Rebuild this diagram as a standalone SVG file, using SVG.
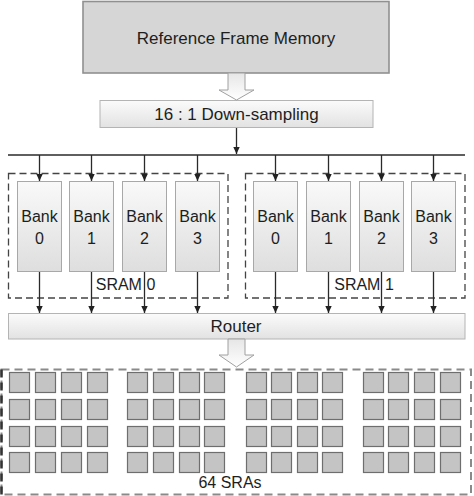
<svg xmlns="http://www.w3.org/2000/svg" width="474" height="496" viewBox="0 0 474 496">
<defs>
<linearGradient id="gBox" x1="0" y1="0" x2="0" y2="1">
<stop offset="0" stop-color="#fbfbfb"/>
<stop offset="1" stop-color="#e2e2e2"/>
</linearGradient>
<linearGradient id="gBank" x1="0" y1="0" x2="0" y2="1">
<stop offset="0" stop-color="#f9f9f9"/>
<stop offset="1" stop-color="#dedede"/>
</linearGradient>
<linearGradient id="gHollow" x1="0" y1="0" x2="0" y2="1">
<stop offset="0" stop-color="#e6e6e6"/>
<stop offset="1" stop-color="#ffffff"/>
</linearGradient>
<marker id="ah" markerWidth="8" markerHeight="8" refX="7" refY="4" orient="auto" markerUnits="userSpaceOnUse">
<path d="M0,0.8 L7,4 L0,7.2 Z" fill="#222"/>
</marker>
</defs>
<style>
text{font-family:"Liberation Sans",Arial,sans-serif;fill:#1e1e1e;text-anchor:middle}
.t17{font-size:17px}
.t16{font-size:16px}
.bank{fill:url(#gBank);stroke:#a8a8a8;stroke-width:1}
.box{fill:url(#gBox);stroke:#b4b4b4;stroke-width:1}
.hollow{fill:url(#gHollow);stroke:#a0a0a0;stroke-width:1}
.conn{stroke:#2a2a2a;stroke-width:1.3;fill:none}
.sram{fill:none;stroke:#444;stroke-width:1.3;stroke-dasharray:7,4}
.sra{fill:#c4c4c4;stroke:#6e6e6e;stroke-width:1.2}
</style>

<g id="ref-frame-memory">
<rect x="83" y="1.5" width="306" height="71.5" fill="#d6d6d6" stroke="#909090" stroke-width="1.6"/>
<text class="t17" x="236" y="44">Reference Frame Memory</text>
</g>

<g id="downsampling">
<rect class="box" x="100" y="100.5" width="273" height="27"/>
<text class="t17" x="236.5" y="120">16 : 1 Down-sampling</text>
</g>

<g id="sram0">
<rect class="sram" x="8.5" y="173.5" width="219.5" height="124.5"/>
<text class="t16" x="125.5" y="290">SRAM 0</text>
</g>
<g id="sram1">
<rect class="sram" x="245.5" y="173.5" width="219.5" height="124.5"/>
<text class="t16" x="364" y="290">SRAM 1</text>
</g>

<g id="sram0-bank0"><rect class="bank" x="17.5" y="181.5" width="44" height="90"/><text class="t16" x="39.5" y="222">Bank</text><text class="t16" x="39.5" y="244">0</text></g>
<g id="sram0-bank1"><rect class="bank" x="69.5" y="181.5" width="44" height="90"/><text class="t16" x="91.5" y="222">Bank</text><text class="t16" x="91.5" y="244">1</text></g>
<g id="sram0-bank2"><rect class="bank" x="122.5" y="181.5" width="44" height="90"/><text class="t16" x="144.5" y="222">Bank</text><text class="t16" x="144.5" y="244">2</text></g>
<g id="sram0-bank3"><rect class="bank" x="175.5" y="181.5" width="44" height="90"/><text class="t16" x="197.5" y="222">Bank</text><text class="t16" x="197.5" y="244">3</text></g>
<g id="sram1-bank0"><rect class="bank" x="253.5" y="181.5" width="44" height="90"/><text class="t16" x="275.5" y="222">Bank</text><text class="t16" x="275.5" y="244">0</text></g>
<g id="sram1-bank1"><rect class="bank" x="306.5" y="181.5" width="44" height="90"/><text class="t16" x="328.5" y="222">Bank</text><text class="t16" x="328.5" y="244">1</text></g>
<g id="sram1-bank2"><rect class="bank" x="359.5" y="181.5" width="44" height="90"/><text class="t16" x="381.5" y="222">Bank</text><text class="t16" x="381.5" y="244">2</text></g>
<g id="sram1-bank3"><rect class="bank" x="411.5" y="181.5" width="44" height="90"/><text class="t16" x="433.5" y="222">Bank</text><text class="t16" x="433.5" y="244">3</text></g>

<g id="router">
<rect class="box" x="8.5" y="313.5" width="456.5" height="25.5"/>
<text class="t17" x="236" y="332">Router</text>
</g>

<g id="sras">
<rect x="1.5" y="369.5" width="469.5" height="125" fill="none" stroke="#8a8a8a" stroke-width="2" stroke-dasharray="8,5"/>
<line x1="1.5" y1="369.5" x2="1.5" y2="494.5" stroke="#333" stroke-width="2.5" stroke-dasharray="8,5"/>
<g id="sra-cells">
<rect class="sra" x="9.5" y="372.5" width="20" height="20"/><rect class="sra" x="35.5" y="372.5" width="20" height="20"/><rect class="sra" x="61.5" y="372.5" width="20" height="20"/><rect class="sra" x="87.5" y="372.5" width="20" height="20"/>
<rect class="sra" x="127.5" y="372.5" width="20" height="20"/><rect class="sra" x="153.5" y="372.5" width="20" height="20"/><rect class="sra" x="179.5" y="372.5" width="20" height="20"/><rect class="sra" x="204.5" y="372.5" width="20" height="20"/>
<rect class="sra" x="246.5" y="372.5" width="20" height="20"/><rect class="sra" x="271.5" y="372.5" width="20" height="20"/><rect class="sra" x="297.5" y="372.5" width="20" height="20"/><rect class="sra" x="322.5" y="372.5" width="20" height="20"/>
<rect class="sra" x="363.5" y="372.5" width="20" height="20"/><rect class="sra" x="388.5" y="372.5" width="20" height="20"/><rect class="sra" x="414.5" y="372.5" width="20" height="20"/><rect class="sra" x="440.5" y="372.5" width="20" height="20"/>

<rect class="sra" x="9.5" y="399.5" width="20" height="20"/><rect class="sra" x="35.5" y="399.5" width="20" height="20"/><rect class="sra" x="61.5" y="399.5" width="20" height="20"/><rect class="sra" x="87.5" y="399.5" width="20" height="20"/>
<rect class="sra" x="127.5" y="399.5" width="20" height="20"/><rect class="sra" x="153.5" y="399.5" width="20" height="20"/><rect class="sra" x="179.5" y="399.5" width="20" height="20"/><rect class="sra" x="204.5" y="399.5" width="20" height="20"/>
<rect class="sra" x="246.5" y="399.5" width="20" height="20"/><rect class="sra" x="271.5" y="399.5" width="20" height="20"/><rect class="sra" x="297.5" y="399.5" width="20" height="20"/><rect class="sra" x="322.5" y="399.5" width="20" height="20"/>
<rect class="sra" x="363.5" y="399.5" width="20" height="20"/><rect class="sra" x="388.5" y="399.5" width="20" height="20"/><rect class="sra" x="414.5" y="399.5" width="20" height="20"/><rect class="sra" x="440.5" y="399.5" width="20" height="20"/>

<rect class="sra" x="9.5" y="426.5" width="20" height="20"/><rect class="sra" x="35.5" y="426.5" width="20" height="20"/><rect class="sra" x="61.5" y="426.5" width="20" height="20"/><rect class="sra" x="87.5" y="426.5" width="20" height="20"/>
<rect class="sra" x="127.5" y="426.5" width="20" height="20"/><rect class="sra" x="153.5" y="426.5" width="20" height="20"/><rect class="sra" x="179.5" y="426.5" width="20" height="20"/><rect class="sra" x="204.5" y="426.5" width="20" height="20"/>
<rect class="sra" x="246.5" y="426.5" width="20" height="20"/><rect class="sra" x="271.5" y="426.5" width="20" height="20"/><rect class="sra" x="297.5" y="426.5" width="20" height="20"/><rect class="sra" x="322.5" y="426.5" width="20" height="20"/>
<rect class="sra" x="363.5" y="426.5" width="20" height="20"/><rect class="sra" x="388.5" y="426.5" width="20" height="20"/><rect class="sra" x="414.5" y="426.5" width="20" height="20"/><rect class="sra" x="440.5" y="426.5" width="20" height="20"/>

<rect class="sra" x="9.5" y="452.5" width="20" height="20"/><rect class="sra" x="35.5" y="452.5" width="20" height="20"/><rect class="sra" x="61.5" y="452.5" width="20" height="20"/><rect class="sra" x="87.5" y="452.5" width="20" height="20"/>
<rect class="sra" x="127.5" y="452.5" width="20" height="20"/><rect class="sra" x="153.5" y="452.5" width="20" height="20"/><rect class="sra" x="179.5" y="452.5" width="20" height="20"/><rect class="sra" x="204.5" y="452.5" width="20" height="20"/>
<rect class="sra" x="246.5" y="452.5" width="20" height="20"/><rect class="sra" x="271.5" y="452.5" width="20" height="20"/><rect class="sra" x="297.5" y="452.5" width="20" height="20"/><rect class="sra" x="322.5" y="452.5" width="20" height="20"/>
<rect class="sra" x="363.5" y="452.5" width="20" height="20"/><rect class="sra" x="388.5" y="452.5" width="20" height="20"/><rect class="sra" x="414.5" y="452.5" width="20" height="20"/><rect class="sra" x="440.5" y="452.5" width="20" height="20"/>
</g>
<text class="t16" x="230" y="488">64 SRAs</text>
</g>

<g id="connectors">
<path class="hollow" d="M228,73 L245,73 L245,90 L254,90 L236.5,100 L219,90 L228,90 Z"/>
<path class="hollow" d="M228,339 L245,339 L245,355 L254,355 L236.5,367 L219,355 L228,355 Z"/>
<line class="conn" x1="236.5" y1="128" x2="236.5" y2="154" marker-end="url(#ah)"/>
<line class="conn" x1="8" y1="155" x2="465" y2="155"/>
<line class="conn" x1="39.5" y1="155" x2="39.5" y2="181" marker-end="url(#ah)"/>
<line class="conn" x1="91.5" y1="155" x2="91.5" y2="181" marker-end="url(#ah)"/>
<line class="conn" x1="144.5" y1="155" x2="144.5" y2="181" marker-end="url(#ah)"/>
<line class="conn" x1="197.5" y1="155" x2="197.5" y2="181" marker-end="url(#ah)"/>
<line class="conn" x1="275.5" y1="155" x2="275.5" y2="181" marker-end="url(#ah)"/>
<line class="conn" x1="328.5" y1="155" x2="328.5" y2="181" marker-end="url(#ah)"/>
<line class="conn" x1="381.5" y1="155" x2="381.5" y2="181" marker-end="url(#ah)"/>
<line class="conn" x1="433.5" y1="155" x2="433.5" y2="181" marker-end="url(#ah)"/>
<line class="conn" x1="39.5" y1="272" x2="39.5" y2="313" marker-end="url(#ah)"/>
<line class="conn" x1="91.5" y1="272" x2="91.5" y2="313" marker-end="url(#ah)"/>
<line class="conn" x1="144.5" y1="272" x2="144.5" y2="313" marker-end="url(#ah)"/>
<line class="conn" x1="197.5" y1="272" x2="197.5" y2="313" marker-end="url(#ah)"/>
<line class="conn" x1="275.5" y1="272" x2="275.5" y2="313" marker-end="url(#ah)"/>
<line class="conn" x1="328.5" y1="272" x2="328.5" y2="313" marker-end="url(#ah)"/>
<line class="conn" x1="381.5" y1="272" x2="381.5" y2="313" marker-end="url(#ah)"/>
<line class="conn" x1="433.5" y1="272" x2="433.5" y2="313" marker-end="url(#ah)"/>
</g>
</svg>
